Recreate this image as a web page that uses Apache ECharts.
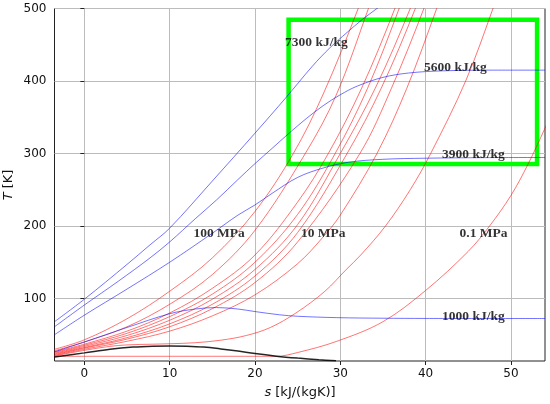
<!DOCTYPE html>
<html><head><meta charset="utf-8">
<script src="https://cdn.jsdelivr.net/npm/echarts@6/dist/echarts.min.js"></script>
<style>html,body{margin:0;padding:0;background:#fff}#c{width:550px;height:404px}</style>
</head><body><div id="c"></div>
<script>
// axis ticks
const xTicks = [0, 10, 20, 30, 40, 50];
const yTicks = [100, 200, 300, 400, 500];

// isobars [s kJ/(kgK), T K]
const p100MPa = [[-3.5,30],[0,43],[5,72],[10,110],[15,156],[20,220],[24.5,300],[28,382],[32.1,500],[33.2,540]];
const pB = [[-3.5,28],[0,40],[5,61],[10,92],[15,133],[20,194],[25.9,300],[29.5,380],[33.3,500],[34.4,540]];
const pC = [[-3.5,26.5],[0,37],[5,55],[10,80],[15,114],[20,160],[25,233],[28.6,300],[32.5,390],[36.4,500],[37.5,540]];
const pD = [[-3.5,25.5],[0,35.5],[5,52],[10,75],[15,106],[20,150],[25,216],[29.4,300],[33.2,390],[36.9,500],[38,540]];
const pE = [[-3.5,24.5],[0,34],[5,49],[10,70],[15,99],[20,140],[25,202],[30,300],[34.1,390],[38.2,500],[39.3,540]];
const pF = [[-3.5,23.5],[0,32.5],[5,46],[10,65],[15,92],[20,131],[25,191],[30.8,300],[34.8,390],[38.8,500],[39.9,540]];
const pG = [[-3.5,22.5],[0,31.5],[5,44],[10,61],[15,86],[20,122],[25,178],[32.3,300],[36,390],[39.8,500],[40.9,540]];
const p10MPa = [[-3.5,21.5],[0,30],[5,41],[10,55],[15,76],[20,105],[25,148],[28,185],[30,215],[34.3,300],[37.8,390],[41.3,500],[42.4,540]];
const pH = [[-3.5,20.8],[0,28.5],[3,34],[5,36],[8,37],[10,37.6],[13,39],[16,42.5],[19,49],[21.8,60],[24.8,80],[28.2,110],[30.7,140],[32.4,160],[35.3,200],[38.2,250],[40.6,300],[44.7,400],[47.9,500],[49,540]];
const p01MPa = [[-3.5,20.3],[5,20.3],[15,20.3],[22.5,20.3],[25,25.5],[29.6,41],[35,68],[40,111],[45,165],[47.5,200],[50,242],[52,285],[54,335],[55,362]];

// isenthalps
const h7300 = [[-3.5,68],[0,99],[5,147],[7.7,174],[10,197],[15,262],[20,328],[23.7,378],[26.7,420],[28.8,446],[30.8,467],[32.5,484],[34.3,500],[36,515]];
const h5600 = [[-3.5,61],[0,91],[4,124],[7.7,156],[10,178],[13,210],[15.5,236],[18,264],[20,286],[22,307],[24,328],[26,348],[28,366],[30,381],[32,393],[35,405],[38,411],[42,414],[48,415],[54,415]];
const h3900 = [[-3.5,50],[0,77],[5,113],[10,150],[15,190],[18,215],[20,229],[22,245],[25,267],[28,280],[31,288],[35,292],[40,293.5],[47,294.3],[54,294.5]];
const h1000 = [[-3.5,26.5],[0,40],[5,60],[10,79],[13,85.5],[15.5,87.5],[18,85.5],[20,82],[22.9,77.5],[25,75.5],[29.6,73.6],[35,72.8],[40,72.5],[54,72.4]];

// saturation dome
const dome = [[-3.5,19.4],[0,25],[3,30],[5.7,33],[8,34.3],[10,34.6],[12,34.2],[14,33],[16,30.5],[18,27.5],[20,24],[22.5,20.5],[25,17.8],[27.5,15.6],[29.5,14]];

// annotations
const labelText = ['7300 kJ/kg','5600 kJ/kg','3900 kJ/kg','1000 kJ/kg','100 MPa','10 MPa','0.1 MPa'];
const labelS = [27.2, 43.5, 45.6, 45.6, 15.8, 28.0, 46.8];
const labelT = [453, 418, 298, 75.8, 189, 189, 189];

// highlighted box
const boxS = [23.94, 53.07];
const boxT = [285.4, 484.5];

const redLines = [p100MPa, pB, pC, pD, pE, pF, pG, p10MPa, pH, p01MPa];
const blueLines = [h7300, h5600, h3900, h1000];

const chart = echarts.init(document.getElementById('c'));
const lineSeries = (d, color, width, z) => ({
  type: 'line', data: d, showSymbol: false, smooth: 0.35,
  lineStyle: { color: color, width: width }, silent: true, z: z, clip: true
});
const series = [];
redLines.forEach(d => series.push(lineSeries(d, 'rgba(255,0,0,0.55)', 1, 2)));
blueLines.forEach(d => series.push(lineSeries(d, 'rgba(0,0,255,0.55)', 1, 3)));
series.push(lineSeries(dome, 'rgba(0,0,0,0.85)', 1.5, 4));
series.push({
  type: 'scatter', symbolSize: 1, itemStyle: { color: 'rgba(0,0,0,0)' }, z: 10, silent: true,
  data: labelText.map((t, i) => ({ name: t, value: [labelS[i], labelT[i]] })),
  label: { show: true, position: 'inside', formatter: p => p.name, color: '#000',
    fontFamily: 'Liberation Serif', fontWeight: 'bold', fontSize: 13.5 },
  markArea: {
    silent: true,
    itemStyle: { color: 'rgba(0,0,0,0)', borderColor: '#00ff00', borderWidth: 4.5 },
    data: [[{ coord: [boxS[0], boxT[1]] }, { coord: [boxS[1], boxT[0]] }]]
  }
});

chart.setOption({
  animation: false,
  grid: { left: 54.5, top: 8.5, right: 5, bottom: 43, show: true, borderColor: '#222', borderWidth: 1,
          containLabel: false, outerBoundsMode: 'none' },
  xAxis: {
    type: 'value', min: -3.5, max: 54,
    axisLine: { show: false },
    axisTick: { show: true, customValues: xTicks, length: 4, lineStyle: { color: '#222' } },
    axisLabel: { customValues: xTicks, margin: 7, color: '#111', fontFamily: 'DejaVu Sans', fontSize: 12 },
    splitLine: { show: true, lineStyle: { color: '#bcbcbc', width: 1 } }
  },
  yAxis: {
    type: 'value', min: 13.8, max: 500,
    axisLine: { show: false },
    axisTick: { show: true, customValues: yTicks, length: 4, lineStyle: { color: '#222' } },
    axisLabel: { customValues: yTicks, margin: 8, color: '#111', fontFamily: 'DejaVu Sans', fontSize: 12 },
    splitLine: { show: true, lineStyle: { color: '#bcbcbc', width: 1 } }
  },
  graphic: [
    { type: 'text', x: 300, y: 393, style: { text: '{i|s} [kJ/(kgK)]', font: '13px "DejaVu Sans"', fill: '#111',
      align: 'center', verticalAlign: 'middle',
      rich: { i: { fontStyle: 'italic', fontFamily: 'DejaVu Sans', fontSize: 13, fill: '#111' } } } },
    { type: 'text', x: 9, y: 185, rotation: Math.PI / 2, style: { text: '{i|T} [K]', font: '13px "DejaVu Sans"', fill: '#111',
      align: 'center', verticalAlign: 'middle',
      rich: { i: { fontStyle: 'italic', fontFamily: 'DejaVu Sans', fontSize: 13, fill: '#111' } } } }
  ],
  series: series
});
</script>
</body></html>
